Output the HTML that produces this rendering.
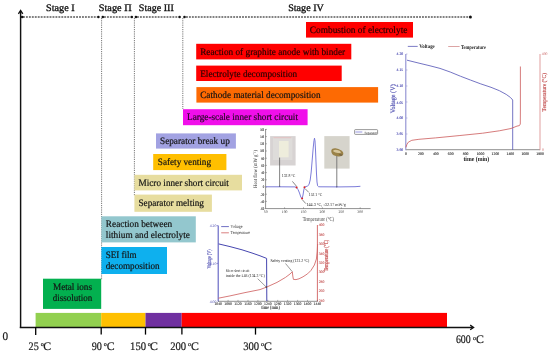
<!DOCTYPE html>
<html><head><meta charset="utf-8"><title>Thermal runaway stages</title>
<style>
html,body{margin:0;padding:0;background:#fff;}
body{width:550px;height:353px;overflow:hidden;}
svg{display:block;filter:blur(0.3px);text-rendering:geometricPrecision;}
.s{font-family:"Liberation Serif",serif;}
.bt{font-family:"Liberation Serif",serif;font-size:9.8px;fill:#141414;stroke:#141414;stroke-width:0.2px;}
.rt{fill:#2a0000;stroke:#2a0000;}
.st{font-family:"Liberation Serif",serif;font-size:10px;fill:#111;stroke:#111;stroke-width:0.32px;}
.ax{font-family:"Liberation Serif",serif;font-size:11.5px;fill:#1a1a1a;stroke:#1a1a1a;stroke-width:0.2px;}
.tiny{font-family:"Liberation Serif",serif;font-size:3.8px;stroke-width:0.12px;}
</style></head>
<body>
<svg width="550" height="353" viewBox="0 0 550 353">
<rect width="550" height="353" fill="#fff"/>

<!-- stage labels -->
<text class="st" x="46" y="10.6" textLength="28.6" lengthAdjust="spacingAndGlyphs">Stage I</text>
<text class="st" x="98.8" y="10.6" textLength="32.8" lengthAdjust="spacingAndGlyphs">Stage Π</text>
<text class="st" x="138.8" y="10.6" textLength="35" lengthAdjust="spacingAndGlyphs">Stage III</text>
<text class="st" x="288.2" y="10.6" textLength="35.6" lengthAdjust="spacingAndGlyphs">Stage IV</text>

<!-- vertical dotted stage separators -->
<g stroke="#555" stroke-width="0.8" stroke-dasharray="1.2 1">
<line x1="101.6" y1="18" x2="101.6" y2="280"/>
<line x1="134.4" y1="18" x2="134.4" y2="196"/>
<line x1="182.8" y1="18" x2="182.8" y2="109"/>
</g>

<!-- top dashed line with arrow segments -->
<g stroke="#5a5a5a" stroke-width="1.6" stroke-dasharray="1.9 1.05">
<line x1="23" y1="17" x2="97.5" y2="17"/>
<line x1="104" y1="17" x2="130.8" y2="17"/>
<line x1="137" y1="17" x2="178.5" y2="17"/>
<line x1="186" y1="17" x2="469" y2="17"/>
</g>
<g fill="#111">
<circle cx="22.2" cy="17" r="1.3"/>
<circle cx="98.4" cy="17" r="1.3"/>
<circle cx="102.8" cy="17" r="1.3"/>
<circle cx="131.8" cy="17" r="1.3"/>
<circle cx="135.9" cy="17" r="1.3"/>
<circle cx="179.6" cy="17" r="1.3"/>
<circle cx="184.5" cy="17" r="1.3"/>
<circle cx="470.4" cy="17" r="1.5"/>
</g>

<!-- boxes -->
<rect x="306" y="22" width="107" height="15.6" fill="#ff0000"/>
<text class="bt rt" x="309.8" y="32.9" textLength="97.6" lengthAdjust="spacingAndGlyphs">Combustion of electrolyte</text>

<rect x="196.2" y="43.8" width="155.1" height="15.6" fill="#ff0000"/>
<text class="bt rt" x="200.2" y="54.7" textLength="145" lengthAdjust="spacingAndGlyphs">Reaction of graphite anode with binder</text>

<rect x="196.2" y="65.6" width="145.5" height="15.4" fill="#ff0000"/>
<text class="bt rt" x="200.2" y="76.5" textLength="97" lengthAdjust="spacingAndGlyphs">Electrolyte decomposition</text>

<rect x="196.4" y="87.1" width="181.7" height="15.5" fill="#fd6a03"/>
<text class="bt" x="200.2" y="98" textLength="120.4" lengthAdjust="spacingAndGlyphs">Cathode material decomposition</text>

<rect x="183" y="109.2" width="124.6" height="16" fill="#f00fea"/>
<text class="bt" style="fill:#300030" x="187" y="120.2" textLength="111" lengthAdjust="spacingAndGlyphs">Large-scale inner short circuit</text>

<rect x="156" y="133.4" width="79.9" height="15.2" fill="#a2a2e2"/>
<text class="bt" x="160" y="144.2" textLength="69.8" lengthAdjust="spacingAndGlyphs">Separator break up</text>

<rect x="153.2" y="154" width="73.2" height="16.1" fill="#ffbf00"/>
<text class="bt" x="157.8" y="164.9" textLength="53.2" lengthAdjust="spacingAndGlyphs">Safety venting</text>

<rect x="134.4" y="174.8" width="107.6" height="15.6" fill="#e7dd9f"/>
<text class="bt" x="138.5" y="185.7" textLength="90.4" lengthAdjust="spacingAndGlyphs">Micro inner short circuit</text>

<rect x="134.4" y="194.6" width="77.5" height="17.2" fill="#e7dd9f"/>
<text class="bt" x="138.5" y="205.6" textLength="65.4" lengthAdjust="spacingAndGlyphs">Separator melting</text>

<rect x="101.4" y="216.3" width="94.4" height="26.1" fill="#93c7ce"/>
<text class="bt" x="105.8" y="227.3" textLength="66.4" lengthAdjust="spacingAndGlyphs">Reaction between</text>
<text class="bt" x="105.8" y="238.2" textLength="84.1" lengthAdjust="spacingAndGlyphs">lithium and electrolyte</text>

<rect x="101.4" y="247" width="65.6" height="27" fill="#0eb0ee"/>
<text class="bt" x="105.7" y="257.6" textLength="30.9" lengthAdjust="spacingAndGlyphs">SEI film</text>
<text class="bt" x="105.7" y="268.6" textLength="53.9" lengthAdjust="spacingAndGlyphs">decomposition</text>

<rect x="43" y="278.7" width="58.2" height="30.2" fill="#03b04f"/>
<text class="bt" x="53" y="290" textLength="39" lengthAdjust="spacingAndGlyphs">Metal ions</text>
<text class="bt" x="52.8" y="301" textLength="39.4" lengthAdjust="spacingAndGlyphs">dissolution</text>

<!-- bottom bar -->
<rect x="35.6" y="312.9" width="65.6" height="14.3" fill="#92d050"/>
<rect x="101.2" y="312.9" width="44.3" height="14.3" fill="#ffc000"/>
<rect x="145.5" y="312.9" width="36.2" height="14.3" fill="#7030a0"/>
<rect x="181.7" y="312.9" width="265.3" height="14.3" fill="#ff0000"/>

<!-- axes -->
<g stroke="#111" stroke-width="1.45" fill="none">
<line x1="20.6" y1="11" x2="20.6" y2="328"/>
<line x1="19.8" y1="327.4" x2="472.5" y2="327.4"/>
<polyline points="18.4,13.9 20.6,10.4 22.8,13.9" stroke-width="1.3" stroke-linejoin="miter"/>
<polyline points="470.2,325.1 473.6,327.4 470.2,329.7" stroke-width="1.3" stroke-linejoin="miter"/>
</g>
<g stroke="#000" stroke-width="1.3">
<line x1="35.7" y1="327" x2="35.7" y2="335"/>
<line x1="101.2" y1="327" x2="101.2" y2="334.6"/>
<line x1="145.5" y1="327" x2="145.5" y2="334.6"/>
<line x1="181.9" y1="327" x2="181.9" y2="334.6"/>
<line x1="255.5" y1="327" x2="255.5" y2="334.6"/>
</g>

<!-- axis labels -->
<text class="ax" x="2.5" y="340.4" textLength="5.6" lengthAdjust="spacingAndGlyphs">0</text>
<g class="ax">
<text x="28.6" y="349.8" textLength="10.2" lengthAdjust="spacingAndGlyphs">25</text><text x="40.7" y="346.4" style="font-size:6.2px" textLength="3" lengthAdjust="spacingAndGlyphs">o</text><text x="43.2" y="349.8" textLength="7.9" lengthAdjust="spacingAndGlyphs">C</text>
<text x="91.7" y="349.8" textLength="10.2" lengthAdjust="spacingAndGlyphs">90</text><text x="103.8" y="346.4" style="font-size:6.2px" textLength="3" lengthAdjust="spacingAndGlyphs">o</text><text x="106.7" y="349.8" textLength="7.9" lengthAdjust="spacingAndGlyphs">C</text>
<text x="130.1" y="349.8" textLength="16.0" lengthAdjust="spacingAndGlyphs">150</text><text x="147.8" y="346.4" style="font-size:6.2px" textLength="3" lengthAdjust="spacingAndGlyphs">o</text><text x="150.1" y="349.8" textLength="7.9" lengthAdjust="spacingAndGlyphs">C</text>
<text x="170.2" y="349.8" textLength="16.0" lengthAdjust="spacingAndGlyphs">200</text><text x="187.9" y="346.4" style="font-size:6.2px" textLength="3" lengthAdjust="spacingAndGlyphs">o</text><text x="191.0" y="349.8" textLength="7.9" lengthAdjust="spacingAndGlyphs">C</text>
<text x="243.2" y="349.8" textLength="16.0" lengthAdjust="spacingAndGlyphs">300</text><text x="260.9" y="346.4" style="font-size:6.2px" textLength="3" lengthAdjust="spacingAndGlyphs">o</text><text x="264.0" y="349.8" textLength="7.9" lengthAdjust="spacingAndGlyphs">C</text>
<text x="455.9" y="343.2" textLength="14.8" lengthAdjust="spacingAndGlyphs">600</text><text x="473.1" y="339.8" style="font-size:6.2px" textLength="3" lengthAdjust="spacingAndGlyphs">o</text><text x="476.0" y="343.2" textLength="7.9" lengthAdjust="spacingAndGlyphs">C</text>
</g>

<!-- ===== top-right inset: voltage & temperature vs time ===== -->
<g id="tr">
<line x1="407.8" y1="46.4" x2="417.7" y2="46.4" stroke="#5a5ab8" stroke-width="0.8"/>
<text class="s" x="419.2" y="48.2" font-size="5.6" font-weight="bold" fill="#222" textLength="15.6" lengthAdjust="spacingAndGlyphs">Voltage</text>
<line x1="448.2" y1="46.5" x2="459.6" y2="46.5" stroke="#d89a9a" stroke-width="0.9"/>
<text class="s" x="460.9" y="48.8" font-size="5.6" font-weight="bold" fill="#222" textLength="25" lengthAdjust="spacingAndGlyphs">Temperature</text>
<!-- axes -->
<line x1="405.8" y1="54" x2="405.8" y2="150.2" stroke="#8c8cd0" stroke-width="1.1"/>
<line x1="406" y1="149.7" x2="540" y2="149.7" stroke="#a4a4a4" stroke-width="1.2"/>
<line x1="540" y1="54" x2="540" y2="150.2" stroke="#dc9494" stroke-width="0.9"/>
<g class="tiny" fill="#4848b0" stroke="#4848b0" text-anchor="end">
<text x="403.2" y="55.4">4.20</text><text x="403.2" y="71.4">4.15</text><text x="403.2" y="87.2">4.10</text><text x="403.2" y="103.5">4.05</text><text x="403.2" y="118.9">4.00</text><text x="403.2" y="135">3.95</text><text x="403.2" y="150.6">3.90</text>
</g>
<g stroke="#7070c0" stroke-width="0.4">
<line x1="406" y1="54" x2="407.5" y2="54"/><line x1="406" y1="70" x2="407.5" y2="70"/><line x1="406" y1="86" x2="407.5" y2="86"/><line x1="406" y1="102" x2="407.5" y2="102"/><line x1="406" y1="118" x2="407.5" y2="118"/><line x1="406" y1="134" x2="407.5" y2="134"/>
</g>
<g class="tiny" fill="#333" stroke="#333" text-anchor="middle">
<text x="406" y="155">0</text><text x="420.9" y="155">200</text><text x="435.8" y="155">400</text><text x="450.7" y="155">600</text><text x="465.6" y="155">800</text><text x="480.5" y="155">1000</text><text x="495.4" y="155">1200</text><text x="510.3" y="155">1400</text><text x="525.2" y="155">1600</text><text x="540.1" y="155">1800</text>
</g>
<text class="s" x="463.4" y="161.4" font-size="6.6" font-weight="bold" fill="#222" textLength="25.8" lengthAdjust="spacingAndGlyphs">time (min)</text>
<text class="s" transform="translate(394.7,98.8) rotate(-90)" text-anchor="middle" font-size="6.6" fill="#5252b2" stroke="#5252b2" stroke-width="0.15" textLength="29" lengthAdjust="spacingAndGlyphs">Voltage (V)</text>
<g class="tiny" fill="#c86060"><text x="541.8" y="55.4">400</text><text x="542" y="151.4">0</text></g>
<text class="s" transform="translate(546.4,92.2) rotate(-90)" text-anchor="middle" font-size="5.8" fill="#c04848" stroke="#c04848" stroke-width="0.15" textLength="38.5" lengthAdjust="spacingAndGlyphs">Temperature (°C)</text>
<polyline fill="none" stroke="#6464bc" stroke-width="0.9" points="407,60.2 420,63.4 430,65.8 440,68.4 450.2,72 460.4,76.2 470.6,80.1 480.8,83.9 491,87.3 499.4,90.7 506.2,94.4 510.5,97.5 512.7,100 512.7,150"/>
<polyline fill="none" stroke="#cc5a5a" stroke-width="0.8" points="405.9,147.4 407,144.2 408.3,142.2 411.8,140.3 418.9,139.3 435.5,137.9 459.1,135.6 482.7,133.2 499.3,130.8 511,128.5 517,126.1 519.4,125.6 520.3,124 520.4,110 520.4,66.5"/>
</g>

<!-- ===== middle inset: DSC of separator ===== -->
<g id="dsc">
<line x1="265.6" y1="129" x2="265.6" y2="208.8" stroke="#444" stroke-width="0.6"/>
<line x1="265.4" y1="208.6" x2="370.6" y2="208.6" stroke="#444" stroke-width="0.6"/>
<g stroke="#444" stroke-width="0.4">
<line x1="265.6" y1="129.4" x2="267" y2="129.4"/><line x1="265.6" y1="136.6" x2="267" y2="136.6"/><line x1="265.6" y1="143.8" x2="267" y2="143.8"/><line x1="265.6" y1="151" x2="267" y2="151"/><line x1="265.6" y1="158.2" x2="267" y2="158.2"/><line x1="265.6" y1="165.4" x2="267" y2="165.4"/><line x1="265.6" y1="172.6" x2="267" y2="172.6"/><line x1="265.6" y1="179.8" x2="267" y2="179.8"/><line x1="265.6" y1="187" x2="267" y2="187"/><line x1="265.6" y1="194.2" x2="267" y2="194.2"/><line x1="265.6" y1="201.4" x2="267" y2="201.4"/>
<line x1="284.6" y1="208.6" x2="284.6" y2="207.2"/><line x1="303.5" y1="208.6" x2="303.5" y2="207.2"/><line x1="322.4" y1="208.6" x2="322.4" y2="207.2"/><line x1="341.3" y1="208.6" x2="341.3" y2="207.2"/><line x1="360.2" y1="208.6" x2="360.2" y2="207.2"/>
</g>
<g class="tiny" fill="#333" stroke="#333" text-anchor="end" font-size="3.7">
<text x="264.2" y="130.7" textLength="4.0" lengthAdjust="spacingAndGlyphs">160</text>
<text x="264.2" y="137.9" textLength="4.0" lengthAdjust="spacingAndGlyphs">140</text>
<text x="264.2" y="145.1" textLength="4.0" lengthAdjust="spacingAndGlyphs">120</text>
<text x="264.2" y="152.3" textLength="4.0" lengthAdjust="spacingAndGlyphs">100</text>
<text x="264.2" y="159.5" textLength="3.0" lengthAdjust="spacingAndGlyphs">80</text>
<text x="264.2" y="166.7" textLength="3.0" lengthAdjust="spacingAndGlyphs">60</text>
<text x="264.2" y="173.9" textLength="3.0" lengthAdjust="spacingAndGlyphs">40</text>
<text x="264.2" y="181.1" textLength="3.0" lengthAdjust="spacingAndGlyphs">20</text>
<text x="264.2" y="188.3" textLength="1.5" lengthAdjust="spacingAndGlyphs">0</text>
<text x="264.2" y="195.5" textLength="4.0" lengthAdjust="spacingAndGlyphs">-20</text>
<text x="264.2" y="202.7" textLength="4.0" lengthAdjust="spacingAndGlyphs">-40</text>
<text x="264.2" y="209.9" textLength="4.0" lengthAdjust="spacingAndGlyphs">-60</text>
</g>
<g class="tiny" fill="#333" text-anchor="middle">
<text x="265.7" y="213.4">50</text><text x="284.6" y="213.4">100</text><text x="303.5" y="213.4">150</text><text x="322.4" y="213.4">200</text><text x="341.3" y="213.4">250</text><text x="360.2" y="213.4">300</text>
</g>
<text class="s" transform="translate(256.6,169) rotate(-90)" text-anchor="middle" font-size="5.4" fill="#333" textLength="38" lengthAdjust="spacingAndGlyphs">Heat flow (mW g⁻¹)</text>
<text class="s" x="302.7" y="221" font-size="6" fill="#333" textLength="31.4" lengthAdjust="spacingAndGlyphs">Temperature (°C)</text>
<!-- photos -->
<rect x="270.1" y="136.1" width="25.5" height="29.4" fill="#d7d3d3"/>
<rect x="273" y="137.4" width="19.4" height="22.6" fill="#dedcda"/>
<line x1="273.5" y1="137.7" x2="291.3" y2="137.7" stroke="#e6b8b8" stroke-width="0.7"/>
<rect x="279" y="141" width="9.6" height="16.3" fill="#eeeddc"/>
<rect x="324.3" y="136.1" width="25.3" height="32.5" fill="#d6d4cc"/>
<path d="M331.3,150.6 C331.6,148.8 333.6,148 335.6,148.3 C337.6,148.6 339.4,149.2 341,150.2 C342.6,151.2 343.6,152.6 343.3,154.2 C342.8,155.8 340.8,156.5 338.6,156.4 C336.2,156.3 333.8,155.6 332.4,154.2 C331.6,153.2 331.2,151.9 331.3,150.6 Z" fill="#9a8248"/>
<path d="M333.2,150.4 C334.6,149.4 337,149.6 339,150.6 C340.4,151.3 341.2,152.2 340.6,152.9 C338.6,153.3 336,152.7 334.4,152 C333.6,151.6 333,151 333.2,150.4 Z" fill="#d6c69c"/>
<path d="M338.6,154.6 C340.2,154 342,154.2 342.8,154.8 C341.8,155.9 339.8,156.1 338.6,154.6 Z" fill="#6e6048"/>
<line x1="279.6" y1="157.6" x2="279.6" y2="186.4" stroke="#333" stroke-width="0.6"/>
<line x1="336.8" y1="156" x2="336.8" y2="186.8" stroke="#707070" stroke-width="0.9"/>
<circle cx="279.6" cy="186.4" r="0.7" fill="#333"/>
<circle cx="336.8" cy="186.8" r="0.7" fill="#333"/>
<!-- curve -->
<polyline fill="none" stroke="#7474d6" stroke-width="0.95" stroke-linejoin="round" points="265.8,186.8 280,186.8 295,186.9 296.4,187.4 298,189.5 299.5,193 300.8,197 302.1,198.6 303,195 303.8,190 304.5,187.2 306,186.6 307.5,186 309,184.6 310.2,180 311.2,172 312.2,160 313.2,148 314,140.5 314.5,138.2 315,141 315.5,150 316,162 316.5,174 317,182 317.6,185.8 318.6,186.7 320,186.8 340,186.9 355,186.7 360.4,186.3"/>
<g fill="#e02020"><circle cx="296.6" cy="187.4" r="1"/><circle cx="302.1" cy="198.6" r="1"/><circle cx="304.5" cy="187.2" r="1"/></g>
<g stroke="#222" stroke-width="0.55">
<line x1="292.4" y1="181.4" x2="296.8" y2="186.6"/>
<line x1="305" y1="188.6" x2="308.8" y2="192.4"/>
<line x1="302.4" y1="199.8" x2="305.8" y2="203.6"/>
</g>
<g class="s" font-size="4.4" fill="#222">
<text x="281.8" y="177.3" textLength="13.6" lengthAdjust="spacingAndGlyphs">132.8 °C</text>
<text x="308.8" y="195.8" textLength="13.4" lengthAdjust="spacingAndGlyphs">152.1 °C</text>
<text x="306.4" y="206.2" textLength="39.4" lengthAdjust="spacingAndGlyphs">144.3 °C,  -32.17 mW/g</text>
</g>
<rect x="354.6" y="129.6" width="23" height="4.8" rx="0.8" fill="#fff" stroke="#555" stroke-width="0.6"/>
<line x1="355.4" y1="132" x2="362.3" y2="132" stroke="#6a6ad4" stroke-width="0.7"/>
<text class="s" x="364.4" y="133.5" font-size="3.6" fill="#333" textLength="12.8" lengthAdjust="spacingAndGlyphs">Separator</text>
</g>

<!-- ===== lower inset: voltage & temperature (safety venting) ===== -->
<g id="lc">
<line x1="218.2" y1="225.4" x2="218.2" y2="301.6" stroke="#5c5cc0" stroke-width="1.1"/>
<line x1="218" y1="301.3" x2="317.8" y2="301.3" stroke="#444" stroke-width="0.6"/>
<line x1="317.4" y1="225" x2="317.4" y2="301.3" stroke="#d06060" stroke-width="0.9"/>
<g class="tiny" fill="#4848b0" text-anchor="end"><text x="216.4" y="226.6">4.20</text><text x="216.4" y="264.6">4.10</text><text x="216.4" y="302.6">4.00</text></g>
<g stroke="#4a4ab4" stroke-width="0.5"><line x1="216.6" y1="225.6" x2="218" y2="225.6"/><line x1="216.6" y1="263.4" x2="218" y2="263.4"/></g>
<text class="s" transform="translate(210.8,259) rotate(-90)" text-anchor="middle" font-size="5.8" fill="#4848b0" stroke="#4848b0" stroke-width="0.12" textLength="19" lengthAdjust="spacingAndGlyphs">Voltage (V)</text>
<line x1="221.2" y1="226.6" x2="228.9" y2="226.6" stroke="#4a4ab4" stroke-width="0.8"/>
<text class="s" x="230.6" y="228" font-size="4.6" fill="#333" textLength="12" lengthAdjust="spacingAndGlyphs">Voltage</text>
<line x1="221.2" y1="232.8" x2="228.9" y2="232.8" stroke="#d06060" stroke-width="0.8"/>
<text class="s" x="230.6" y="234.2" font-size="4.6" fill="#333" textLength="19.5" lengthAdjust="spacingAndGlyphs">Temperature</text>
<g class="tiny" fill="#444" stroke="#444" text-anchor="middle" font-size="3.3"><text x="218.2" y="305.2">1040</text><text x="228.1" y="305.2">1080</text><text x="238.0" y="305.2">1120</text><text x="248.0" y="305.2">1160</text><text x="257.9" y="305.2">1200</text><text x="267.8" y="305.2">1240</text><text x="277.7" y="305.2">1280</text><text x="287.6" y="305.2">1320</text><text x="297.6" y="305.2">1360</text><text x="307.5" y="305.2">1400</text><text x="317.4" y="305.2">1440</text></g>
<g stroke="#444" stroke-width="0.4"><line x1="228.1" y1="301.3" x2="228.1" y2="299.9"/><line x1="238.0" y1="301.3" x2="238.0" y2="299.9"/><line x1="248.0" y1="301.3" x2="248.0" y2="299.9"/><line x1="257.9" y1="301.3" x2="257.9" y2="299.9"/><line x1="267.8" y1="301.3" x2="267.8" y2="299.9"/><line x1="277.7" y1="301.3" x2="277.7" y2="299.9"/><line x1="287.6" y1="301.3" x2="287.6" y2="299.9"/><line x1="297.6" y1="301.3" x2="297.6" y2="299.9"/><line x1="307.5" y1="301.3" x2="307.5" y2="299.9"/><line x1="317.4" y1="301.3" x2="317.4" y2="299.9"/></g>
<text class="s" x="261.2" y="308.6" font-size="5.4" font-weight="bold" fill="#333" textLength="18.6" lengthAdjust="spacingAndGlyphs">time (min)</text>
<g class="tiny" fill="#c86060" stroke="#c86060" font-size="3.3">
<text x="318.7" y="226.4">400</text><text x="318.7" y="235.8">380</text><text x="318.7" y="245.2">360</text><text x="318.7" y="254.6">340</text><text x="318.7" y="264">320</text><text x="318.7" y="273.4">300</text><text x="318.7" y="282.8">280</text><text x="318.7" y="292.2">260</text><text x="318.7" y="301.6">240</text>
</g>
<text class="s" transform="translate(327.6,255.6) rotate(-90)" text-anchor="middle" font-size="6" fill="#c44a4a" stroke="#c44a4a" stroke-width="0.15" textLength="31.5" lengthAdjust="spacingAndGlyphs">Temperature (°C)</text>
<polyline fill="none" stroke="#4646b0" stroke-width="1" points="218.6,243.9 230,246.6 242,249.8 252,253 260,255.8 266.6,258.4 266.8,301"/>
<polyline fill="none" stroke="#d06464" stroke-width="0.85" points="218.4,298.2 230,295.9 245,292.6 260,289.6 266.8,287 277,282.4 285.5,277.4 290,274 292.3,271.8 292.8,276 293.4,279.4 296,279.6 299,278.8 303,276.8 307.6,273.8 311,270.4 314.4,265 316.4,259 317.2,252 317.6,244"/>
<circle cx="266.4" cy="287.1" r="0.8" fill="#444"/>
<g stroke="#222" stroke-width="0.45"><line x1="257.7" y1="278.7" x2="266.1" y2="286.9"/><line x1="285.5" y1="263.5" x2="292.2" y2="271.6"/></g>
<g class="s" font-size="4.4" fill="#222">
<text x="225.7" y="271.6" textLength="23.6" lengthAdjust="spacingAndGlyphs">Micro short circuit</text>
<text x="225.7" y="277.2" textLength="39" lengthAdjust="spacingAndGlyphs">inside the LIB (134.3 °C)</text>
<text x="270.5" y="262" textLength="38.8" lengthAdjust="spacingAndGlyphs">Safety venting (131.2 °C)</text>
</g>
</g>

</svg>
</body></html>
